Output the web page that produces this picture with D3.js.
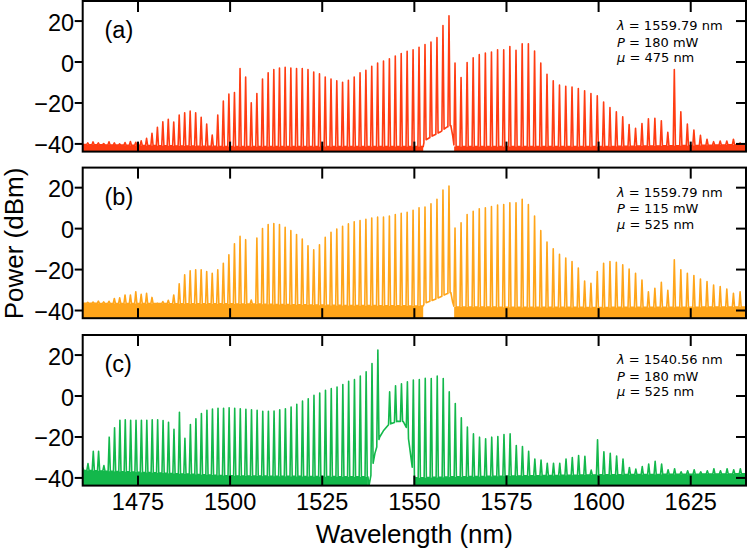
<!DOCTYPE html>
<html>
<head>
<meta charset="utf-8">
<script src="https://cdn.jsdelivr.net/npm/d3@7"></script>
<style>
  html, body { margin: 0; padding: 0; background: #ffffff; }
  svg { display: block; }
</style>
</head>
<body>
<svg id="chart" width="747" height="548"></svg>
<script>
// ---------------- data ----------------
const wavelengthTicks = [1475, 1500, 1525, 1550, 1575, 1600, 1625];
const powerTicks = [20, 0, -20, -40];
const panelLabels = ["(a)", "(b)", "(c)"];
const seriesColors = ["#ff3c12", "#ffa51a", "#13b84b"];

// legend values
const legendPumpWl = ["1559.79", "1559.79", "1540.56"];
const legendPower = ["180", "115", "180"];
const legendMu = ["475", "525", "525"];

// pump position as read on the wavelength axis, comb spacing, first (bluest) mode index
const pumpWavelengths = [1559.4, 1559.4, 1540.1];
const combSpacingGHz = 201.5;
const firstMode = [64, 64, 53];

// comb-line peak powers (dBm), from bluest mode to reddest mode
const peaksA = [
  -39.5, -39.0, -39.5, -39.8, -39.0, -39.5, -40.0, -39.3, -38.8, -39.2, -38.5,
  -37.3, -34.8, -31.9, -29.2, -28.0, -29.3, -25.9, -24.8, -24.0, -24.8, -27.0, -30.3, -35.7, -25.9, -19.1, -15.7, -14.9,
  -3.2, -7.3, -19.9, -15.4, -8.3, -5.3, -3.7, -2.9, -2.6, -2.9, -3.2, -3.2, -3.7, -4.9, -5.7, -7.3, -8.3,
  -9.2, -9.9, -8.9, -7.3, -5.3, -4.0, -2.1, -0.5, 0.5, 1.6, 2.9, 4.1, 5.2, 6.0, 7.2, 8.5, 9.7, 11.9, 17.8,
  22.6,
  -0.5, -7.6, -0.3, 2.1, 3.6, 4.4, 4.9, 6.0, 6.0, 7.6, 5.7, 8.9, 8.9, 5.4,
  -0.5, -6.0, -9.2, -11.3, -11.8, -12.2, -12.9, -14.1, -15.4, -16.5, -19.5, -22.2, -24.3, -26.7, -30.5, -32.4,
  -30.0, -27.7, -27.5, -28.7, -34.3, -3.7, -24.3, -30.3, -33.2, -35.8, -37.7, -38.9, -38.6, -38.6, -37.7, -39.5
];
const peaksB = [
  -36.0, -35.9, -35.4, -35.8, -35.5, -34.1, -33.8, -32.4, -32.4, -30.8, -32.1, -31.6, -33.6, -36.4, -35.6, -35.0,
  -32.4, -27.0, -22.6, -20.6, -20.1, -20.1, -21.0, -21.8, -20.1, -16.9, -12.8, -7.4,
  -3.8, -5.4, -34.9, -4.6, 0.0, 2.0, 2.5, 2.0, 0.7, -1.0, -2.9, -5.1, -8.4, -10.3, -7.9, -4.3, -1.8,
  -0.2, 1.1, 2.3, 3.3, 3.9, 4.6, 5.2, 5.6, 5.6, 6.1, 6.9, 7.5, 8.0, 9.0, 10.2, 10.5, 12.1, 14.3, 18.8,
  20.8,
  0.3, 2.8, 6.9, 8.5, 9.7, 10.2, 10.8, 11.5, 11.8, 12.6, 12.6, 14.3, 11.8, 6.1,
  -1.0, -6.6, -9.8, -12.5, -14.4, -16.1, -19.3, -25.6, -26.7, -21.0, -16.9, -16.1, -16.4, -17.7, -19.8, -21.8,
  -25.1, -30.8, -29.1, -26.2, -30.1, -15.2, -20.1, -21.8, -22.9, -24.6, -25.9, -27.5, -28.3, -29.5, -31.6, -30.8
];
const peaksC = [
  -35.0, -33.0, -27.0, -27.0, -34.0,
  -20.1, -15.5, -11.9, -11.6, -11.9, -11.9, -11.9, -11.9, -11.6, -11.6, -12.0, -12.8, -16.2,
  -7.9, -20.6, -13.9, -11.1, -8.6, -7.0, -6.4, -6.0, -6.0, -5.7, -6.0, -6.2, -6.5, -6.7, -7.0, -7.5,
  -7.5, -7.4, -6.7, -6.2, -5.4, -4.1, -2.5, -1.3, 0.3, 1.5, 2.8, 3.6, 4.4, 5.6, 7.2, 8.0, 9.7, 11.8, 15.9,
  22.5,
  null, 2.0, 5.0, 6.0, 7.0, 7.8, 8.0, 8.6, 8.5, 9.7, 8.5, 2.0,
  -3.7, -10.6, -15.2, -18.5, -20.1, -20.9, -20.1, -19.8, -18.8, -18.5, -24.2, -24.7, -27.0, -30.8, -31.3, -32.9, -32.9, -32.9,
  -30.8, -30.0, -29.1, -29.5, -36.2, -21.4, -27.2, -28.0, -29.3, -30.8, -34.9, -35.7, -34.5, -33.2, -31.9, -33.2,
  -36.0, -35.5, -37.0, -36.5, -36.0, -37.0, -36.5, -35.5, -36.5, -35.5, -36.0, -35.5
];

// noise floor / valley level knots [wavelength nm, dBm]
const floorA = [[1460, -40.3], [1478, -40.8], [1500, -41.3], [1552.4, -41.3], [1552.7, -38.5], [1555, -36], [1557, -34.2],
  [1558.8, -31.8], [1559.9, -31.0], [1560.4, -36], [1560.8, -41.3], [1600, -41.3], [1625, -40.8], [1640, -40.3]];
const floorB = [[1460, -36.5], [1505, -36.8], [1530, -37.5], [1552.4, -37.8], [1552.7, -36.5], [1555, -35], [1557.5, -33],
  [1558.8, -31.8], [1559.9, -31.2], [1560.4, -36], [1560.8, -38.3], [1600, -38.5], [1640, -38.3]];
const floorC = [[1460, -36.3], [1480, -37.5], [1500, -39], [1537.4, -39.5], [1537.7, -43.8], [1539.3, -28], [1540.6, -20],
  [1541.6, -17], [1543, -14], [1545.5, -12.3], [1547, -12.5], [1548, -16], [1548.5, -22], [1549.3, -33], [1549.8, -40],
  [1560, -39.5], [1600, -38.5], [1640, -38]];

// filtered (no noise below the trace) wavelength ranges
const notchA = [1552.4, 1560.8];
const notchB = [1552.4, 1560.8];
const notchC = [1537.5, 1549.8];

// ---------------- drawing ----------------
const peaksAll = [peaksA, peaksB, peaksC];
const floorsAll = [floorA, floorB, floorC];
const notchAll = [notchA, notchB, notchC];

const C_NM_GHZ = 299792458; // speed of light in nm*GHz
function modeWavelength(pump, k) {
  return C_NM_GHZ / (C_NM_GHZ / pump + k * combSpacingGHz);
}

const svg = d3.select("#chart");
const plotLeft = 82.7, plotRight = 746;
const panelTops = [1, 167.6, 335];
const panelH = 150.6;
const yDomain = [-43.75, 29.8];
const tickFont = "'Liberation Sans', Arial, Helvetica, sans-serif";
const x = d3.scaleLinear().domain([1460, 1640]).range([plotLeft, plotRight]);

panelTops.forEach((top, i) => {
  const bottom = top + panelH;
  const y = d3.scaleLinear().domain(yDomain).range([bottom, top]);
  const color = seriesColors[i];
  const knots = floorsAll[i];
  const notch = notchAll[i];
  const floorScale = d3.scaleLinear().domain(knots.map(d => d[0])).range(knots.map(d => d[1])).clamp(true);

  const clipId = "clip" + i;
  svg.append("clipPath").attr("id", clipId)
    .append("rect").attr("x", plotLeft).attr("y", top).attr("width", plotRight - plotLeft).attr("height", panelH);

  const g = svg.append("g").attr("clip-path", `url(#${clipId})`);

  // noise band
  const area = d3.area()
    .defined(d => d[0] <= notch[0] || d[0] >= notch[1])
    .x(d => x(d[0])).y0(y(yDomain[0]) + 2).y1(d => y(d[1]));
  g.append("path").datum(knots).attr("d", area).attr("fill", color);

  // trace with comb lines
  const kMax = firstMode[i];
  const lines = peaksAll[i]
    .map((p, j) => ({ wl: modeWavelength(pumpWavelengths[i], kMax - j), p }))
    .filter(d => d.p !== null)
    .sort((a, b) => a.wl - b.wl);
  const s = 0.3;
  const pts = [];
  let ki = 0, lastEnd = -Infinity;
  for (const ln of lines) {
    while (ki < knots.length && knots[ki][0] < ln.wl - s) {
      if (knots[ki][0] > lastEnd) pts.push(knots[ki]);
      ki++;
    }
    const vl = floorScale(ln.wl - s), vr = floorScale(ln.wl + s);
    pts.push([ln.wl - s, vl]);
    pts.push([ln.wl, Math.max(ln.p, vl, vr)]);
    pts.push([ln.wl + s, vr]);
    lastEnd = ln.wl + s;
  }
  for (; ki < knots.length; ki++) if (knots[ki][0] > lastEnd) pts.push(knots[ki]);

  const line = d3.line().x(d => x(d[0])).y(d => y(d[1]));
  g.append("path").datum(pts).attr("d", line)
    .attr("fill", "none").attr("stroke", color).attr("stroke-width", 1.6)
    .attr("stroke-linejoin", "round");

  // ticks
  const tg = svg.append("g").attr("stroke", "#000").attr("stroke-width", 2);
  powerTicks.forEach(v => {
    tg.append("line").attr("x1", plotLeft - 8).attr("x2", plotLeft).attr("y1", y(v)).attr("y2", y(v));
    tg.append("line").attr("x1", plotRight - 10).attr("x2", plotRight).attr("y1", y(v)).attr("y2", y(v));
  });
  wavelengthTicks.forEach(t => {
    tg.append("line").attr("x1", x(t)).attr("x2", x(t)).attr("y1", top).attr("y2", top + 11);
    tg.append("line").attr("x1", x(t)).attr("x2", x(t)).attr("y1", bottom - 10).attr("y2", bottom);
  });

  // frame
  svg.append("rect").attr("x", plotLeft).attr("y", top)
    .attr("width", plotRight - plotLeft).attr("height", panelH)
    .attr("fill", "none").attr("stroke", "#000").attr("stroke-width", 2);

  // y tick labels
  svg.append("g").selectAll("text").data(powerTicks).join("text")
    .attr("x", plotLeft - 8.5).attr("y", v => y(v) + 9.5)
    .attr("text-anchor", "end")
    .style("font-family", tickFont).style("font-size", "23.5px").attr("fill", "#000")
    .text(v => v < 0 ? "\u2212" + Math.abs(v) : String(v));

  // panel label
  svg.append("text").attr("x", 104.5).attr("y", top + 37)
    .style("font-family", tickFont).style("font-size", "23.5px").attr("fill", "#000")
    .text(panelLabels[i]);

  // parameter legend
  const lg = svg.append("g")
    .style("font-family", "'DejaVu Sans', sans-serif").style("font-size", "13px").attr("fill", "#000");
  const legendRows = [["\u03bb", " = " + legendPumpWl[i] + " nm"], ["P", " = " + legendPower[i] + " mW"], ["\u03bc", " = " + legendMu[i] + " nm"]];
  const rowOffsets = [29.3, 45.5, 61.3];
  legendRows.forEach((r, j) => {
    const t = lg.append("text").attr("x", 617).attr("y", top + rowOffsets[j]);
    t.append("tspan").style("font-style", "italic").text(r[0]);
    t.append("tspan").text(r[1]);
  });

  // x tick labels on the bottom panel
  if (i === panelTops.length - 1) {
    svg.append("g").selectAll("text").data(wavelengthTicks).join("text")
      .attr("x", t => x(t)).attr("y", bottom + 24)
      .attr("text-anchor", "middle")
      .style("font-family", tickFont).style("font-size", "23.5px").attr("fill", "#000")
      .text(t => String(t));
  }
});

// axis titles
svg.append("text").attr("x", (plotLeft + plotRight) / 2).attr("y", 543.3)
  .attr("text-anchor", "middle")
  .style("font-family", tickFont).style("font-size", "26px").attr("fill", "#000")
  .text("Wavelength (nm)");
svg.append("text").attr("transform", "translate(22.5,243.5) rotate(-90)")
  .attr("text-anchor", "middle")
  .style("font-family", tickFont).style("font-size", "26px").attr("fill", "#000")
  .text("Power (dBm)");
</script>
</body>
</html>
